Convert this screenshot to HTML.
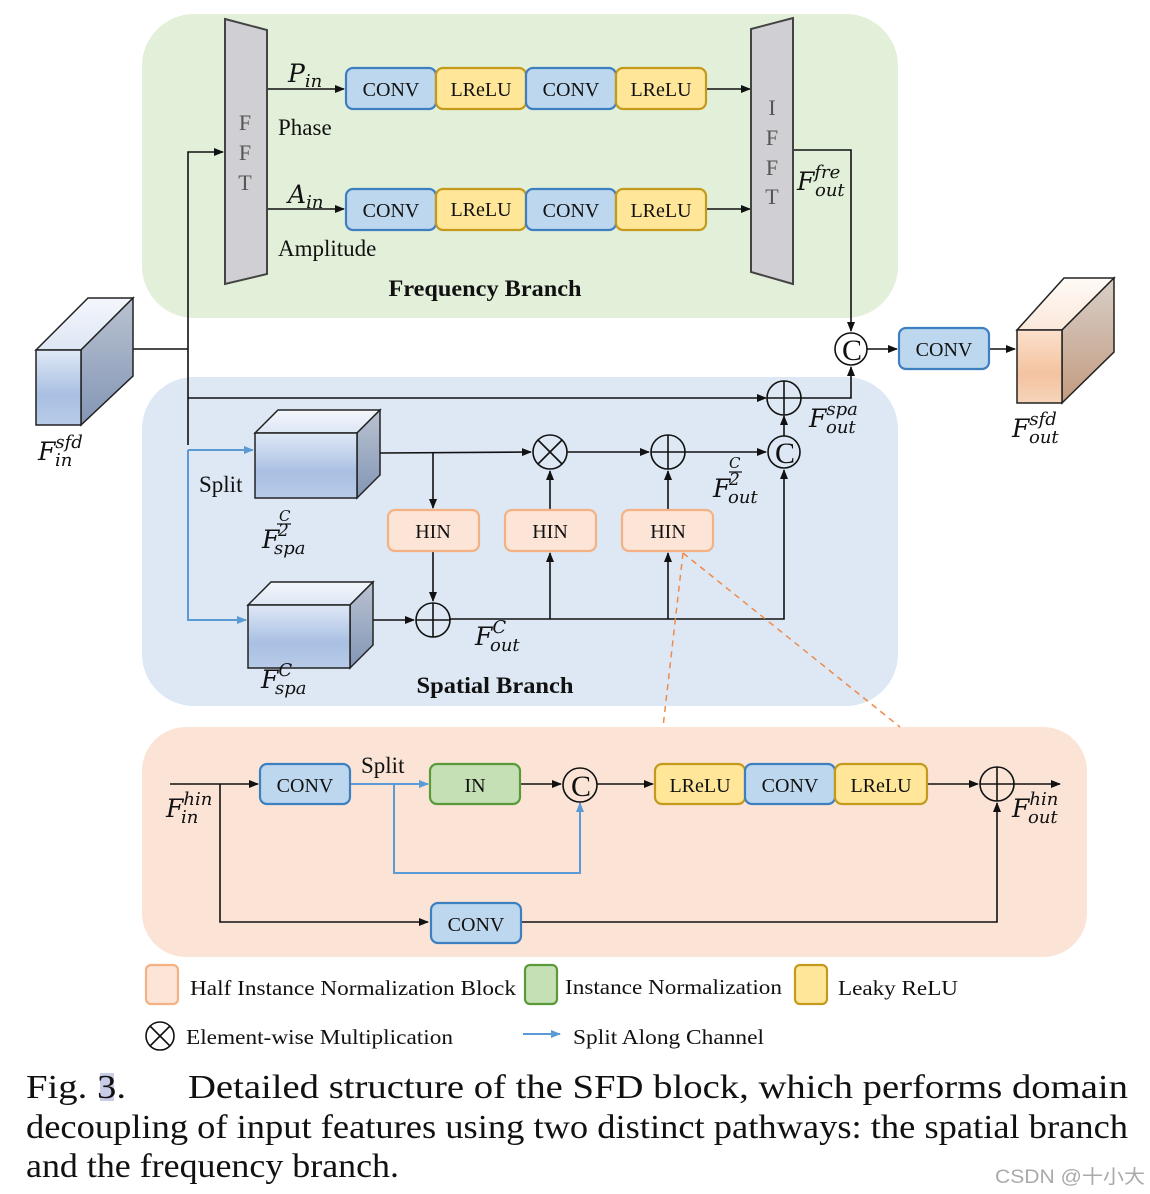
<!DOCTYPE html>
<html><head><meta charset="utf-8"><style>
html,body{margin:0;padding:0;background:#fff;}
svg{display:block;}
text{font-family:"Liberation Serif",serif;fill:#111;}
.m{font-style:italic;font-family:"DejaVu Serif","Liberation Serif",serif;}
</style></head><body>
<svg width="1150" height="1194" viewBox="0 0 1150 1194" xmlns="http://www.w3.org/2000/svg">
<defs>
<marker id="a" markerWidth="10" markerHeight="8" refX="9" refY="4" orient="auto" markerUnits="userSpaceOnUse"><path d="M0,0 L10,4 L0,8 Z" fill="#111"/></marker>
<marker id="b" markerWidth="10" markerHeight="8" refX="9" refY="4" orient="auto" markerUnits="userSpaceOnUse"><path d="M0,0 L10,4 L0,8 Z" fill="#5b9bd5"/></marker>
<linearGradient id="cf" x1="0" y1="0" x2="0" y2="1"><stop offset="0" stop-color="#dfe8f6"/><stop offset="0.6" stop-color="#a9c0e3"/><stop offset="1" stop-color="#b8cbe8"/></linearGradient>
<linearGradient id="ct" x1="0" y1="0" x2="0" y2="1"><stop offset="0" stop-color="#f4f7fc"/><stop offset="1" stop-color="#dde6f4"/></linearGradient>
<linearGradient id="cs" x1="0" y1="0" x2="0" y2="1"><stop offset="0" stop-color="#b9c2d0"/><stop offset="1" stop-color="#8396b6"/></linearGradient>
<linearGradient id="of" x1="0" y1="0" x2="0" y2="1"><stop offset="0" stop-color="#fbe0cc"/><stop offset="0.6" stop-color="#f3c3a0"/><stop offset="1" stop-color="#f8d4bb"/></linearGradient>
<linearGradient id="ot" x1="0" y1="0" x2="0" y2="1"><stop offset="0" stop-color="#fffaf6"/><stop offset="1" stop-color="#fbe8da"/></linearGradient>
<linearGradient id="os" x1="0" y1="0" x2="0" y2="1"><stop offset="0" stop-color="#d8cfc8"/><stop offset="1" stop-color="#c39b80"/></linearGradient>
</defs>

<rect x="142" y="14" width="756" height="304" rx="52" fill="#e2efd9"/>
<rect x="142" y="377" width="756" height="329" rx="52" fill="#dde8f4"/>
<rect x="142" y="727" width="945" height="230" rx="44" fill="#fbe4d6"/>

<g stroke="#111" stroke-width="1.6" fill="none">
<polyline points="133,349 188,349"/>
<polyline points="188,445 188,152 223,152" marker-end="url(#a)"/>
<polyline points="267,89 344,89" marker-end="url(#a)"/>
<polyline points="267,209 344,209" marker-end="url(#a)"/>
<polyline points="706,89 750,89" marker-end="url(#a)"/>
<polyline points="706,209 750,209" marker-end="url(#a)"/>
<polyline points="793,150 851,150 851,331" marker-end="url(#a)"/>
<polyline points="867,349 897,349" marker-end="url(#a)"/>
<polyline points="989,349 1015,349" marker-end="url(#a)"/>
<polyline points="188,398 766,398" marker-end="url(#a)"/>
<polyline points="800,398 851,398 851,367" marker-end="url(#a)"/>
<polyline points="784,436 784,416" marker-end="url(#a)"/>
<polyline points="380,453 531,452" marker-end="url(#a)"/>
<polyline points="567,452 649,452" marker-end="url(#a)"/>
<polyline points="685,452 766,452" marker-end="url(#a)"/>
<polyline points="433,453 433,508" marker-end="url(#a)"/>
<polyline points="433,551 433,601" marker-end="url(#a)"/>
<polyline points="373,620 414,620" marker-end="url(#a)"/>
<polyline points="450,619 784,619 784,470" marker-end="url(#a)"/>
<polyline points="550,619 550,553" marker-end="url(#a)"/>
<polyline points="550,510 550,471" marker-end="url(#a)"/>
<polyline points="668,619 668,553" marker-end="url(#a)"/>
<polyline points="668,510 668,471" marker-end="url(#a)"/>
<polyline points="170,784 258,784" marker-end="url(#a)"/>
<polyline points="220,784 220,922 428,922" marker-end="url(#a)"/>
<polyline points="521,922 997,922 997,803" marker-end="url(#a)"/>
<polyline points="520,784 561,784" marker-end="url(#a)"/>
<polyline points="597,784 653,784" marker-end="url(#a)"/>
<polyline points="927,784 978,784" marker-end="url(#a)"/>
<polyline points="1014,784 1060,784" marker-end="url(#a)"/>
</g>
<g stroke="#5b9bd5" stroke-width="2" fill="none">
<polyline points="188,450 253,450" marker-end="url(#b)"/>
<polyline points="188,450 188,620 246,620" marker-end="url(#b)"/>
<polyline points="350,784 428,784" marker-end="url(#b)"/>
<polyline points="394,784 394,873 580,873 580,803" marker-end="url(#b)"/>
<polyline points="523,1034 560,1034" marker-end="url(#b)"/>
</g>
<g stroke="#f08a4b" stroke-width="1.5" stroke-dasharray="6,5" fill="none">
<line x1="683" y1="553" x2="663" y2="727"/>
<line x1="683" y1="553" x2="900" y2="727"/>
</g>

<polygon points="225,19 267,30 267,274 225,284" fill="#d0d0d4" stroke="#444" stroke-width="2"/>
<polygon points="751,29 793,18 793,284 751,272" fill="#d0d0d4" stroke="#444" stroke-width="2"/>
<g font-size="22" text-anchor="middle">
<text x="245" y="130" style="fill:#555">F</text><text x="245" y="160" style="fill:#555">F</text><text x="245" y="190" style="fill:#555">T</text>
<text x="772" y="115" style="fill:#555">I</text><text x="772" y="145" style="fill:#555">F</text><text x="772" y="175" style="fill:#555">F</text><text x="772" y="204" style="fill:#555">T</text>
</g>

<g stroke-width="2.2">
<rect x="346" y="68" width="90" height="41" rx="7" fill="#bdd7ee" stroke="#3d7fc1"/>
<rect x="436" y="68" width="90" height="41" rx="7" fill="#ffe699" stroke="#c49a1c"/>
<rect x="526" y="68" width="90" height="41" rx="7" fill="#bdd7ee" stroke="#3d7fc1"/>
<rect x="616" y="68" width="90" height="41" rx="7" fill="#ffe699" stroke="#c49a1c"/>
<rect x="346" y="189" width="90" height="41" rx="7" fill="#bdd7ee" stroke="#3d7fc1"/>
<rect x="436" y="189" width="90" height="41" rx="7" fill="#ffe699" stroke="#c49a1c"/>
<rect x="526" y="189" width="90" height="41" rx="7" fill="#bdd7ee" stroke="#3d7fc1"/>
<rect x="616" y="189" width="90" height="41" rx="7" fill="#ffe699" stroke="#c49a1c"/>
<rect x="899" y="328" width="90" height="41" rx="7" fill="#bdd7ee" stroke="#3d7fc1"/>
<rect x="388" y="510" width="91" height="41" rx="7" fill="#fce4d6" stroke="#f4b183"/>
<rect x="505" y="510" width="91" height="41" rx="7" fill="#fce4d6" stroke="#f4b183"/>
<rect x="622" y="510" width="91" height="41" rx="7" fill="#fce4d6" stroke="#f4b183"/>
<rect x="260" y="764" width="90" height="40" rx="7" fill="#bdd7ee" stroke="#3d7fc1"/>
<rect x="430" y="764" width="90" height="40" rx="7" fill="#c5e0b4" stroke="#5a9a3a"/>
<rect x="655" y="764" width="90" height="40" rx="7" fill="#ffe699" stroke="#c49a1c"/>
<rect x="745" y="764" width="90" height="40" rx="7" fill="#bdd7ee" stroke="#3d7fc1"/>
<rect x="835" y="764" width="92" height="40" rx="7" fill="#ffe699" stroke="#c49a1c"/>
<rect x="431" y="903" width="90" height="40" rx="7" fill="#bdd7ee" stroke="#3d7fc1"/>
<rect x="146" y="965" width="32" height="39" rx="5" fill="#fce4d6" stroke="#f4b183"/>
<rect x="525" y="965" width="32" height="39" rx="5" fill="#c5e0b4" stroke="#5a9a3a"/>
<rect x="795" y="965" width="32" height="39" rx="5" fill="#ffe699" stroke="#c49a1c"/>
</g>
<g font-size="20" text-anchor="middle">
<text x="391" y="96">CONV</text><text x="481" y="96">LReLU</text><text x="571" y="96">CONV</text><text x="661" y="96">LReLU</text>
<text x="391" y="217">CONV</text><text x="481" y="216">LReLU</text><text x="571" y="217">CONV</text><text x="661" y="217">LReLU</text>
<text x="944" y="356">CONV</text>
<text x="433" y="538">HIN</text><text x="550" y="538">HIN</text><text x="668" y="538">HIN</text>
<text x="305" y="792">CONV</text><text x="475" y="792">IN</text><text x="700" y="792">LReLU</text><text x="790" y="792">CONV</text><text x="881" y="792">LReLU</text>
<text x="476" y="931">CONV</text>
</g>

<g stroke="#222" stroke-width="1.5">
<polygon points="36,350 88,298 133,298 81,350" fill="url(#ct)"/>
<polygon points="81,350 133,298 133,376 81,425" fill="url(#cs)"/>
<rect x="36" y="350" width="45" height="75" fill="url(#cf)"/>
<polygon points="255,433 278,410 380,410 357,433" fill="url(#ct)"/>
<polygon points="357,433 380,410 380,475 357,498" fill="url(#cs)"/>
<rect x="255" y="433" width="102" height="65" fill="url(#cf)"/>
<polygon points="248,605 271,582 373,582 350,605" fill="url(#ct)"/>
<polygon points="350,605 373,582 373,645 350,668" fill="url(#cs)"/>
<rect x="248" y="605" width="102" height="63" fill="url(#cf)"/>
<polygon points="1017,330 1064,278 1114,278 1062,330" fill="url(#ot)"/>
<polygon points="1062,330 1114,278 1114,352 1062,403" fill="url(#os)"/>
<rect x="1017" y="330" width="45" height="73" fill="url(#of)"/>
</g>

<g stroke="#111" stroke-width="1.6" fill="none">
<circle cx="851" cy="349" r="16" fill="#fff"/>
<circle cx="784" cy="398" r="17"/><line x1="767" y1="398" x2="801" y2="398"/><line x1="784" y1="381" x2="784" y2="415"/>
<circle cx="784" cy="452" r="16"/>
<circle cx="550" cy="452" r="17"/><line x1="538" y1="440" x2="562" y2="464"/><line x1="562" y1="440" x2="538" y2="464"/>
<circle cx="668" cy="452" r="17"/><line x1="651" y1="452" x2="685" y2="452"/><line x1="668" y1="435" x2="668" y2="469"/>
<circle cx="433" cy="620" r="17"/><line x1="416" y1="620" x2="450" y2="620"/><line x1="433" y1="603" x2="433" y2="637"/>
<circle cx="580" cy="785" r="17"/>
<circle cx="997" cy="784" r="17"/><line x1="980" y1="784" x2="1014" y2="784"/><line x1="997" y1="767" x2="997" y2="801"/>
<circle cx="160" cy="1036" r="14"/><line x1="150" y1="1026" x2="170" y2="1046"/><line x1="170" y1="1026" x2="150" y2="1046"/>
</g>
<g font-size="30" text-anchor="middle">
<text x="852" y="360">C</text><text x="785" y="463">C</text><text x="581" y="796">C</text>
</g>

<g font-size="23">
<text x="278" y="135">Phase</text>
<text x="278" y="256">Amplitude</text>
<text x="199" y="492">Split</text>
<text x="361" y="773">Split</text>
</g>
<text x="485" y="296" font-size="23" font-weight="bold" text-anchor="middle" textLength="193" lengthAdjust="spacingAndGlyphs">Frequency Branch</text>
<text x="495" y="693" font-size="23" font-weight="bold" text-anchor="middle" textLength="157" lengthAdjust="spacingAndGlyphs">Spatial Branch</text>

<g font-size="25">
<text x="288" y="82" class="m">P<tspan font-size="18" dy="5">in</tspan></text>
<text x="288" y="203" class="m">A<tspan font-size="18" dy="5">in</tspan></text>
<text x="797" y="190" class="m">F<tspan font-size="18" dy="-12">fre</tspan><tspan font-size="18" x="815" dy="18">out</tspan></text>
<text x="38" y="460" class="m">F<tspan font-size="18" dy="-12">sfd</tspan><tspan font-size="18" x="55" dy="18">in</tspan></text>
<text x="1012" y="437" class="m">F<tspan font-size="18" dy="-12">sfd</tspan><tspan font-size="18" x="1029" dy="18">out</tspan></text>
<text x="809" y="427" class="m">F<tspan font-size="18" dy="-12">spa</tspan><tspan font-size="18" x="826" dy="18">out</tspan></text>
<text x="713" y="497" class="m">F<tspan font-size="17" x="729" dy="-12">2</tspan><tspan font-size="18" x="728" dy="18">out</tspan></text>
<text x="729" y="468" font-size="15" class="m">C</text>
<text x="262" y="548" class="m">F<tspan font-size="17" x="278" dy="-12">2</tspan><tspan font-size="18" x="274" dy="18">spa</tspan></text>
<text x="279" y="521" font-size="15" class="m">C</text>
<text x="475" y="645" class="m">F<tspan font-size="18" dy="-12">C</tspan><tspan font-size="18" x="490" dy="18">out</tspan></text>
<text x="261" y="688" class="m">F<tspan font-size="18" dy="-12">C</tspan><tspan font-size="18" x="275" dy="18">spa</tspan></text>
<text x="166" y="817" class="m">F<tspan font-size="18" dy="-12">hin</tspan><tspan font-size="18" x="181" dy="18">in</tspan></text>
<text x="1012" y="817" class="m">F<tspan font-size="18" dy="-12">hin</tspan><tspan font-size="18" x="1028" dy="18">out</tspan></text>
</g>
<g stroke="#111" stroke-width="1.2"><line x1="729" y1="472" x2="742" y2="472"/><line x1="277" y1="524" x2="291" y2="524"/></g>

<g font-size="21">
<text x="190" y="995" textLength="326" lengthAdjust="spacingAndGlyphs">Half Instance Normalization Block</text>
<text x="565" y="994" textLength="217" lengthAdjust="spacingAndGlyphs">Instance Normalization</text>
<text x="838" y="995" textLength="120" lengthAdjust="spacingAndGlyphs">Leaky ReLU</text>
<text x="186" y="1044" textLength="267" lengthAdjust="spacingAndGlyphs">Element-wise Multiplication</text>
<text x="573" y="1044" textLength="191" lengthAdjust="spacingAndGlyphs">Split Along Channel</text>
</g>
<rect x="100" y="1073" width="14" height="28" fill="#c8cce6"/>
<g font-size="34">
<text x="26" y="1098" textLength="100" lengthAdjust="spacingAndGlyphs">Fig. 3.</text>
<text x="188" y="1098" textLength="940" lengthAdjust="spacingAndGlyphs">Detailed structure of the SFD block, which performs domain</text>
<text x="26" y="1138" textLength="1102" lengthAdjust="spacingAndGlyphs">decoupling of input features using two distinct pathways: the spatial branch</text>
<text x="26" y="1177" textLength="373" lengthAdjust="spacingAndGlyphs">and the frequency branch.</text>
</g>
<text x="995" y="1183" font-size="19" textLength="150" lengthAdjust="spacingAndGlyphs" style="font-family:'Liberation Sans','Noto Sans CJK SC',sans-serif;fill:#aaa">CSDN @十小大</text>
</svg>
</body></html>
